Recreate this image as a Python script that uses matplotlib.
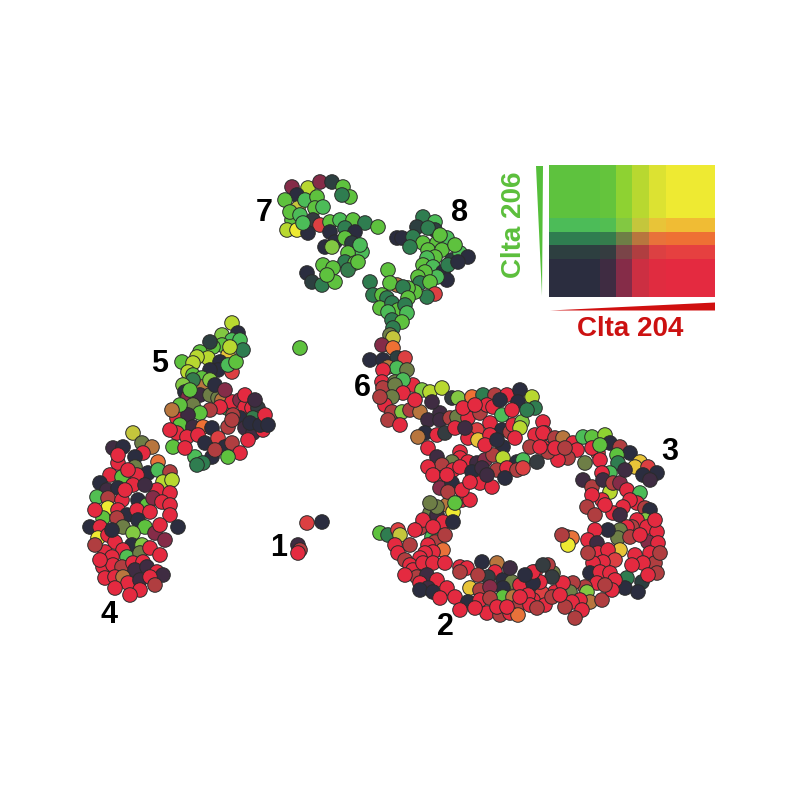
import matplotlib.pyplot as plt

# bivariate colour key: rows = Clta 206 bin (low -> high), cols = Clta 204 bin (low -> high)
grid_colors = [
    ['#2b2d3f', '#3f2c42', '#852c48', '#cc2f42', '#e02c40', '#e42a40'],
    ['#2d3f40', '#353c40', '#7a4448', '#b03e40', '#dc4042', '#e64040'],
    ['#2f7d50', '#357c4c', '#6e7e46', '#b8763e', '#e8723a', '#ee7034'],
    ['#4cbc58', '#52be52', '#82c842', '#c4c63c', '#e8c438', '#f0bc34'],
    ['#5ec23e', '#64c43c', '#8ed232', '#b8d830', '#dce232', '#eeea32'],
]
col_edges = [0, 0.306, 0.402, 0.503, 0.604, 0.704, 1.0]
row_edges = [0, 0.291, 0.392, 0.494, 0.595, 1.0]

# cells: (umap_x, umap_y, clta204 bin, clta206 bin)
cluster7 = [
    (292, 187, 2, 0), (308, 188, 3, 4), (320, 182, 2, 0), (332, 182, 0, 1), (343, 187, 0, 4),
    (350, 197, 0, 4), (342, 195, 0, 2), (297, 195, 0, 0), (285, 200, 0, 4), (298, 208, 3, 3),
    (305, 200, 0, 3), (317, 197, 0, 4), (315, 208, 0, 4), (323, 207, 0, 3), (292, 220, 0, 4),
    (290, 212, 0, 4), (300, 215, 0, 3), (287, 230, 3, 4), (297, 230, 5, 4), (313, 220, 1, 1),
    (320, 225, 4, 1), (308, 233, 0, 0), (303, 223, 0, 3), (330, 222, 0, 4), (340, 220, 0, 3),
    (353, 220, 0, 4), (365, 223, 0, 2), (378, 227, 0, 4), (330, 232, 0, 0), (345, 228, 0, 2),
    (355, 232, 0, 0), (335, 242, 0, 0), (325, 247, 0, 0), (332, 247, 2, 3), (345, 238, 0, 4),
    (352, 243, 0, 1), (362, 252, 0, 3), (348, 253, 0, 4), (345, 262, 0, 2), (355, 263, 0, 4),
    (323, 265, 0, 4), (333, 268, 0, 4), (348, 270, 1, 2), (307, 273, 0, 0), (312, 282, 0, 1),
    (322, 285, 0, 2), (335, 282, 0, 4), (327, 275, 0, 4), (360, 245, 0, 3), (358, 262, 0, 4),
    (370, 282, 0, 2),
]
cluster8 = [
    (423, 217, 0, 2), (435, 222, 0, 3), (417, 227, 0, 1), (435, 230, 0, 1), (397, 238, 0, 0),
    (402, 238, 0, 0), (413, 237, 0, 2), (423, 243, 0, 4), (437, 243, 0, 4), (447, 238, 0, 3),
    (410, 247, 0, 2), (428, 250, 0, 4), (442, 250, 0, 4), (435, 257, 0, 4), (427, 258, 0, 3),
    (452, 260, 0, 1), (460, 253, 0, 3), (468, 257, 0, 0), (423, 265, 0, 4), (433, 267, 0, 3),
    (443, 272, 0, 0), (447, 280, 0, 0), (437, 277, 0, 3), (425, 272, 0, 4), (418, 277, 0, 4),
    (420, 283, 0, 2), (430, 282, 0, 4), (435, 294, 4, 1), (427, 297, 0, 2), (415, 292, 0, 4),
    (408, 288, 0, 4), (388, 270, 0, 4), (428, 228, 0, 2), (440, 235, 0, 4), (455, 245, 0, 4),
    (448, 265, 0, 2), (458, 262, 0, 0),
    (397, 285, 3, 2), (390, 283, 0, 4), (403, 287, 0, 2), (408, 298, 0, 4), (373, 295, 0, 2),
    (382, 295, 0, 4), (387, 298, 0, 2), (380, 308, 0, 4), (392, 303, 0, 2), (398, 310, 0, 4),
    (405, 305, 0, 2), (407, 313, 0, 3), (388, 312, 0, 3), (392, 320, 0, 2), (402, 322, 0, 4),
    (393, 328, 0, 2), (390, 335, 2, 2), (393, 338, 3, 3), (382, 345, 2, 0), (393, 348, 5, 2),
    (397, 358, 0, 1), (405, 358, 4, 1), (370, 360, 0, 0), (383, 360, 0, 0), (388, 367, 3, 2),
    (397, 368, 0, 3), (407, 370, 2, 2), (383, 370, 5, 0), (382, 382, 5, 0), (395, 382, 2, 2),
    (413, 385, 5, 0), (403, 380, 0, 3),
]
cluster6 = [
    (383, 388, 3, 1), (395, 385, 2, 2), (403, 393, 5, 0), (422, 390, 2, 3), (430, 392, 3, 4),
    (442, 388, 3, 4), (452, 398, 1, 1), (458, 398, 2, 3), (472, 397, 5, 2), (483, 395, 0, 2),
    (495, 395, 3, 1), (507, 395, 5, 0), (520, 390, 0, 0), (532, 397, 3, 4), (535, 408, 0, 2),
    (518, 402, 0, 0), (392, 397, 2, 2), (385, 405, 5, 0), (392, 412, 3, 1), (402, 412, 2, 3),
    (410, 410, 3, 1), (420, 412, 3, 2), (428, 420, 1, 0), (440, 413, 1, 0), (440, 420, 1, 0),
    (450, 418, 3, 1), (457, 417, 2, 2), (468, 418, 5, 0), (480, 413, 3, 1), (487, 405, 5, 0),
    (493, 407, 5, 0), (502, 415, 0, 3), (490, 423, 5, 0), (477, 430, 4, 1), (502, 430, 0, 0),
    (510, 432, 3, 1), (513, 425, 5, 0), (522, 422, 2, 3), (520, 428, 3, 4), (543, 422, 5, 0),
    (545, 433, 5, 0), (425, 433, 0, 0), (437, 435, 5, 0), (445, 433, 1, 1), (418, 437, 3, 2),
    (468, 438, 5, 0), (478, 440, 4, 3), (490, 435, 5, 0), (503, 447, 0, 0), (515, 438, 5, 0),
    (543, 447, 5, 0), (428, 448, 5, 0), (437, 457, 1, 0), (460, 452, 5, 0), (460, 458, 5, 0),
    (452, 462, 2, 2), (442, 465, 3, 1), (428, 467, 5, 0), (468, 462, 5, 0), (477, 463, 1, 0),
    (485, 460, 2, 0), (493, 455, 3, 1), (503, 458, 3, 4), (517, 462, 0, 0), (523, 460, 0, 3),
    (537, 462, 1, 1), (453, 470, 5, 0), (460, 467, 5, 0), (472, 472, 0, 0), (482, 468, 1, 0),
    (497, 470, 3, 1), (507, 468, 5, 0), (517, 470, 3, 1), (523, 468, 4, 1), (505, 478, 0, 0),
    (440, 478, 3, 1), (440, 488, 2, 0), (452, 483, 0, 0), (480, 483, 5, 0), (492, 487, 5, 0),
    (380, 397, 3, 1), (388, 420, 3, 1), (400, 425, 5, 0), (447, 505, 3, 2), (462, 500, 5, 0),
    (470, 500, 5, 0), (415, 400, 5, 0), (432, 402, 1, 0), (463, 408, 5, 0), (475, 405, 5, 0),
    (500, 400, 0, 0), (512, 410, 5, 0), (527, 410, 0, 2), (455, 428, 5, 0), (465, 428, 1, 0),
    (485, 445, 5, 0), (497, 440, 0, 0), (433, 475, 5, 0), (447, 475, 5, 0), (448, 492, 3, 1),
    (462, 490, 5, 0), (470, 482, 5, 0), (487, 475, 1, 0), (535, 435, 5, 0), (530, 447, 3, 1),
]
cluster3 = [
    (543, 433, 5, 0), (555, 438, 3, 1), (563, 438, 3, 2), (573, 443, 5, 0), (583, 437, 0, 3),
    (592, 437, 0, 4), (605, 435, 2, 4), (610, 443, 0, 0), (620, 447, 3, 1), (630, 453, 0, 0),
    (617, 455, 0, 4), (618, 463, 0, 2), (610, 473, 0, 3), (598, 453, 4, 1), (592, 448, 5, 0),
    (577, 450, 5, 0), (568, 458, 3, 1), (558, 460, 5, 0), (548, 452, 3, 1), (540, 447, 5, 0),
    (585, 463, 2, 2), (600, 460, 5, 0), (602, 473, 5, 0), (640, 462, 4, 3), (635, 467, 4, 3),
    (648, 467, 4, 1), (657, 473, 0, 0), (643, 475, 0, 0), (650, 480, 1, 0), (583, 480, 1, 0),
    (592, 487, 3, 1), (603, 480, 1, 0), (610, 492, 3, 4), (613, 483, 3, 1), (620, 483, 2, 0),
    (627, 490, 5, 0), (640, 493, 0, 3), (637, 503, 5, 0), (645, 508, 3, 1), (650, 510, 0, 0),
    (630, 500, 5, 0), (623, 507, 5, 0), (613, 513, 5, 0), (620, 515, 1, 0), (602, 500, 5, 0),
    (592, 495, 5, 0), (587, 507, 3, 1), (645, 520, 2, 3), (637, 520, 5, 0), (632, 527, 3, 1),
    (647, 527, 5, 0), (657, 532, 5, 0), (648, 542, 2, 0), (658, 543, 5, 0), (627, 527, 5, 0),
    (620, 530, 2, 2), (618, 538, 2, 2), (608, 530, 0, 0), (595, 530, 5, 0), (588, 540, 5, 0),
    (630, 537, 3, 1), (640, 535, 5, 0), (620, 550, 4, 3), (635, 555, 5, 0), (650, 553, 5, 0),
    (655, 563, 3, 1), (643, 563, 5, 0), (657, 573, 3, 1), (567, 537, 5, 0), (572, 538, 4, 2),
    (568, 545, 5, 4), (562, 535, 3, 1), (597, 543, 1, 0), (598, 553, 5, 0), (608, 550, 5, 0),
    (615, 560, 4, 1), (603, 562, 5, 0), (593, 563, 5, 0), (588, 553, 3, 1), (590, 573, 0, 0),
    (600, 572, 5, 0), (610, 573, 5, 0), (627, 578, 0, 2), (642, 582, 0, 1), (625, 588, 0, 0),
    (638, 592, 0, 0), (615, 580, 5, 0), (597, 583, 5, 0), (585, 587, 3, 1), (573, 583, 3, 1),
    (570, 592, 2, 2), (587, 592, 2, 3), (590, 602, 3, 2), (580, 600, 5, 0), (602, 600, 3, 1),
    (572, 602, 5, 0), (582, 610, 5, 0), (575, 618, 3, 1), (565, 607, 3, 1), (555, 592, 5, 0),
    (563, 583, 5, 0), (553, 573, 2, 2), (548, 565, 3, 1), (552, 577, 1, 1), (535, 572, 5, 0),
    (533, 583, 0, 0), (542, 593, 4, 1), (533, 600, 5, 0), (545, 605, 5, 0), (552, 597, 3, 1),
    (555, 448, 5, 0), (565, 448, 3, 1), (600, 445, 0, 4), (625, 470, 1, 0), (605, 505, 5, 0),
    (595, 515, 3, 1), (655, 520, 5, 0), (660, 553, 3, 1), (648, 575, 5, 0), (632, 565, 5, 0),
    (612, 590, 5, 0), (605, 585, 3, 1), (560, 595, 5, 0), (540, 582, 5, 0),
]
cluster2 = [
    (380, 533, 0, 4), (388, 535, 0, 2), (398, 530, 4, 1), (400, 535, 3, 3), (395, 545, 5, 0),
    (398, 553, 5, 0), (420, 528, 3, 1), (432, 537, 0, 3), (435, 542, 3, 1), (428, 545, 5, 0),
    (443, 550, 4, 2), (433, 552, 5, 0), (425, 553, 5, 0), (420, 558, 5, 0), (405, 560, 3, 1),
    (410, 565, 5, 0), (413, 570, 5, 0), (423, 563, 5, 0), (433, 563, 5, 0), (417, 577, 3, 1),
    (427, 575, 1, 0), (437, 580, 5, 0), (420, 583, 5, 0), (428, 588, 1, 0), (420, 590, 0, 0),
    (433, 592, 0, 0), (447, 588, 5, 0), (455, 597, 5, 0), (460, 567, 5, 0), (467, 568, 5, 0),
    (460, 572, 3, 1), (482, 562, 0, 0), (497, 563, 3, 2), (495, 572, 5, 0), (488, 577, 1, 1),
    (470, 588, 4, 3), (480, 590, 3, 1), (503, 580, 0, 0), (512, 582, 2, 2), (503, 588, 0, 0),
    (503, 597, 0, 4), (520, 585, 5, 0), (533, 583, 0, 0), (533, 572, 5, 0), (543, 565, 1, 1),
    (490, 587, 2, 0), (468, 602, 0, 0), (480, 600, 5, 0), (490, 598, 3, 1), (513, 597, 3, 2),
    (517, 607, 3, 1), (528, 595, 5, 0), (530, 605, 5, 0), (537, 608, 3, 1), (487, 613, 5, 0),
    (500, 615, 3, 1), (510, 613, 5, 0), (518, 615, 4, 2), (497, 607, 5, 0), (507, 607, 5, 0),
    (430, 513, 2, 2), (437, 515, 1, 0), (453, 512, 5, 4), (443, 522, 5, 0), (453, 522, 0, 0),
    (437, 507, 2, 2), (455, 503, 0, 4), (423, 520, 5, 0), (433, 527, 5, 0), (430, 503, 2, 2),
    (410, 545, 3, 1), (405, 575, 5, 0), (445, 563, 5, 0), (440, 598, 5, 0), (475, 608, 5, 0),
    (460, 610, 5, 0), (520, 597, 5, 0), (525, 575, 0, 0), (510, 568, 1, 0), (478, 575, 3, 1),
    (415, 530, 5, 0), (445, 535, 3, 1),
]
cluster5 = [
    (232, 323, 3, 4), (222, 335, 2, 3), (238, 333, 0, 0), (232, 340, 0, 3), (240, 340, 0, 3),
    (222, 345, 0, 4), (213, 347, 0, 4), (210, 342, 0, 1), (200, 352, 0, 4), (208, 358, 3, 4),
    (197, 357, 3, 4), (182, 362, 0, 4), (193, 363, 3, 4), (228, 355, 4, 3), (220, 362, 0, 0),
    (218, 370, 0, 0), (210, 370, 0, 0), (232, 372, 4, 1), (228, 365, 0, 3), (188, 372, 3, 4),
    (193, 375, 0, 4), (202, 378, 0, 4), (202, 387, 3, 2), (193, 380, 1, 2), (183, 385, 2, 3),
    (210, 380, 2, 3), (185, 392, 0, 0), (188, 397, 2, 0), (200, 395, 1, 0), (210, 395, 2, 2),
    (193, 405, 2, 2), (218, 398, 2, 2), (222, 400, 3, 2), (227, 408, 0, 3), (232, 402, 5, 0),
    (240, 400, 2, 0), (245, 407, 5, 0), (252, 408, 5, 0), (258, 408, 1, 1), (262, 417, 3, 4),
    (253, 418, 1, 2), (240, 418, 0, 0), (233, 415, 3, 1), (220, 407, 5, 0), (210, 410, 3, 1),
    (200, 413, 0, 4), (183, 413, 4, 3), (177, 418, 5, 0), (188, 415, 1, 0), (180, 425, 0, 4),
    (193, 427, 1, 0), (203, 427, 5, 2), (177, 433, 5, 0), (187, 437, 5, 0), (198, 435, 5, 0),
    (212, 428, 0, 0), (228, 427, 3, 1), (232, 420, 3, 1), (245, 428, 1, 0), (253, 433, 1, 0),
    (263, 430, 5, 0), (250, 423, 0, 0), (260, 425, 0, 0), (205, 443, 0, 0), (218, 438, 4, 1),
    (225, 447, 0, 0), (232, 443, 3, 1), (240, 453, 5, 0), (228, 457, 0, 4), (212, 457, 0, 0),
    (173, 447, 0, 4), (195, 457, 0, 3), (203, 463, 0, 2), (197, 465, 0, 2),
    (245, 395, 5, 0), (255, 400, 1, 0), (265, 415, 5, 0), (268, 425, 0, 0), (170, 430, 5, 0),
    (185, 448, 5, 0), (215, 450, 3, 1), (248, 440, 5, 0), (190, 390, 0, 4), (215, 385, 0, 0),
    (225, 390, 2, 0), (180, 405, 0, 4), (172, 410, 3, 2), (236, 362, 0, 4), (243, 350, 0, 2),
    (230, 347, 3, 4),
]
cluster4 = [
    (133, 433, 3, 3), (142, 443, 2, 2), (152, 447, 3, 2), (113, 448, 1, 0), (123, 447, 0, 0),
    (143, 453, 5, 0), (135, 457, 0, 0), (158, 462, 4, 2), (118, 463, 5, 0), (135, 467, 2, 2),
    (148, 473, 0, 0), (158, 470, 0, 3), (170, 472, 3, 1), (110, 475, 5, 0), (122, 477, 0, 4),
    (137, 475, 5, 0), (133, 485, 5, 0), (163, 482, 3, 4), (172, 480, 3, 4), (100, 483, 0, 0),
    (107, 490, 1, 0), (118, 488, 0, 0), (157, 490, 5, 0), (170, 493, 5, 0), (97, 497, 1, 3),
    (108, 498, 3, 1), (122, 500, 5, 0), (138, 500, 0, 0), (147, 505, 0, 4), (153, 498, 2, 0),
    (162, 502, 5, 0), (170, 505, 5, 0), (108, 508, 5, 4), (118, 510, 5, 0), (103, 518, 0, 4),
    (127, 515, 0, 0), (137, 510, 5, 0), (150, 512, 5, 0), (170, 515, 5, 0), (90, 527, 0, 0),
    (100, 527, 5, 0), (117, 518, 3, 1), (123, 527, 2, 2), (138, 520, 0, 0), (145, 527, 0, 4),
    (133, 533, 2, 3), (155, 533, 2, 0), (178, 527, 0, 0), (98, 538, 5, 4), (108, 535, 5, 0),
    (115, 542, 5, 0), (132, 545, 0, 0), (142, 545, 2, 3), (123, 550, 5, 0), (105, 552, 5, 0),
    (112, 557, 5, 0), (127, 557, 1, 3), (140, 553, 2, 2), (150, 548, 5, 0), (103, 567, 5, 0),
    (113, 565, 5, 0), (122, 567, 3, 1), (133, 563, 5, 0), (143, 562, 5, 0), (135, 570, 1, 0),
    (147, 567, 1, 0), (157, 572, 5, 0), (163, 575, 1, 0), (105, 578, 5, 0), (115, 577, 5, 0),
    (123, 577, 3, 2), (128, 583, 5, 0), (140, 580, 1, 0), (150, 577, 5, 0),
    (100, 560, 5, 0), (95, 545, 3, 1), (160, 555, 5, 0), (165, 540, 2, 0), (125, 490, 5, 0),
    (145, 485, 1, 0), (128, 470, 5, 0), (118, 455, 5, 0), (160, 525, 5, 0), (112, 530, 0, 0),
    (95, 510, 5, 0), (140, 590, 5, 0), (115, 588, 5, 0), (155, 585, 3, 1), (130, 595, 5, 0),
]
cluster1 = [(307, 523, 4, 1), (322, 522, 0, 0), (298, 545, 1, 0), (300, 550, 3, 1), (298, 553, 5, 0)]
stray = [(300, 348, 0, 4)]

cluster_names = ['1', '2', '3', '4', '5', '6', '7', '8']
label_pos = [(279, 548), (445, 627), (670, 452), (109, 615), (160, 364), (362, 388), (264, 213), (460, 213)]

fams = ['Liberation Sans Narrow', 'Liberation Sans', 'DejaVu Sans']

fig = plt.figure(figsize=(8, 8), dpi=100)
ax = fig.add_axes([0, 0, 1, 1])
ax.set_xlim(0, 800)
ax.set_ylim(800, 0)
ax.axis('off')

cells = cluster7 + cluster8 + cluster5 + cluster4 + cluster6 + cluster3 + cluster2 + cluster1 + stray
xs = [c[0] for c in cells]
ys = [c[1] for c in cells]
cols = [grid_colors[c[3]][c[2]] for c in cells]
ax.scatter(xs, ys, s=110, c=cols, edgecolors='#2a2a2a', linewidths=0.7, zorder=2)

for name, (lx, ly) in zip(cluster_names, label_pos):
    ax.text(lx, ly, name, fontsize=22, weight='bold', ha='center', va='center',
            family=fams, zorder=3)

# colour key
lax = fig.add_axes([549 / 800, 1 - 297 / 800, 166 / 800, 132 / 800])
widths = [col_edges[i + 1] - col_edges[i] for i in range(len(col_edges) - 1)]
for j in range(len(row_edges) - 1):
    lax.bar(col_edges[:-1], row_edges[j + 1] - row_edges[j], width=widths,
            bottom=row_edges[j], align='edge', color=grid_colors[j], linewidth=0)
lax.set_xlim(0, 1)
lax.set_ylim(0, 1)
lax.axis('off')

ax.fill([536, 543, 542], [166, 166, 296], color='#55bf3a', linewidth=0)
ax.fill([550, 715, 715], [310.5, 302.5, 310.5], color='#d01010', linewidth=0)
ax.text(514, 225, 'Clta 206', rotation=90, color='#5cbf3c', fontsize=20, weight='bold',
        ha='center', va='center', family=fams)
ax.text(630, 329, 'Clta 204', color='#cc1111', fontsize=20, weight='bold',
        ha='center', va='center', family=fams)

fig.savefig('out.png', dpi=100, facecolor='white')
